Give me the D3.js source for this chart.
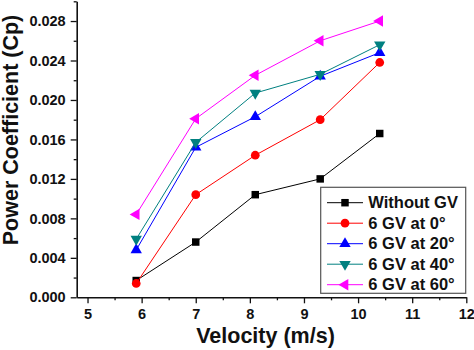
<!DOCTYPE html>
<html>
<head>
<meta charset="utf-8">
<script src="https://d3js.org/d3.v7.min.js"></script>
<style>
  body { margin: 0; background: #fff; }
  text { font-family: "Liberation Sans", Arial, sans-serif; font-weight: bold; }
</style>
</head>
<body>
<script>
// data
let velocity = [5.9, 7, 8.1, 9.3, 10.4];
let withoutGV = [0.0017, 0.0056, 0.0104, 0.0120, 0.0166];
let gv0  = [0.0014, 0.0104, 0.0144, 0.0180, 0.0238];
let gv20 = [0.0048, 0.0152, 0.0183, 0.0224, 0.0248];
let gv40 = [0.0059, 0.0157, 0.0207, 0.0226, 0.0256];
let gv60 = [0.0084, 0.0181, 0.0225, 0.0260, 0.0280];
let seriesNames = ["Without GV", "6 GV at 0\u00b0", "6 GV at 20\u00b0", "6 GV at 40\u00b0", "6 GV at 60\u00b0"];
let xTicks = [5, 6, 7, 8, 9, 10, 11, 12];
let yTicks = [0, 0.004, 0.008, 0.012, 0.016, 0.020, 0.024, 0.028];

let width = 474, height = 350;

let svg = d3.select("body").append("svg")
    .attr("width", width)
    .attr("height", height);

let x = d3.scaleLinear().domain([4.8, 12]).range([76.7, 466.3]);
let y = d3.scaleLinear().domain([0, 0.030]).range([297.3, 1.3]);

// minor ticks first
svg.append("g")
    .attr("transform", "translate(0,297.3)")
    .call(d3.axisBottom(x).tickValues(d3.range(5.5, 12, 1)).tickSize(3).tickFormat(""))
    .call(g => g.select(".domain").remove());
svg.append("g")
    .attr("transform", "translate(76.7,0)")
    .call(d3.axisLeft(y).tickValues(d3.range(0.002, 0.0301, 0.004)).tickSize(3).tickFormat(""))
    .call(g => g.select(".domain").remove());

let xAxis = svg.append("g")
    .attr("transform", "translate(0,297.3)")
    .call(d3.axisBottom(x).tickValues(xTicks).tickSize(6).tickSizeOuter(0).tickPadding(5).tickFormat(d3.format("d")));
let yAxis = svg.append("g")
    .attr("transform", "translate(76.7,0)")
    .call(d3.axisLeft(y).tickValues(yTicks).tickSize(6).tickSizeOuter(0).tickPadding(5).tickFormat(d3.format(".3f")));

svg.selectAll(".tick line").attr("stroke", "#111").attr("stroke-width", 1.3);
svg.selectAll(".domain").attr("stroke", "#111").attr("stroke-width", 1.6);
svg.selectAll(".tick text").attr("font-size", "14.5px").attr("fill", "#111")
    .attr("font-family", "Liberation Sans, Arial, sans-serif").attr("font-weight", "bold");

// axis titles
svg.append("text")
    .attr("x", 265.5).attr("y", 343)
    .attr("text-anchor", "middle")
    .attr("font-size", "21.5px")
    .attr("fill", "#111")
    .text("Velocity (m/s)");

svg.append("text")
    .attr("transform", "translate(18,130) rotate(-90)")
    .attr("text-anchor", "middle")
    .attr("font-size", "21.5px")
    .attr("fill", "#111")
    .text("Power Coefficient (Cp)");

let series = [
  { name: seriesNames[0], values: withoutGV, color: "#000000", shape: d3.symbolSquare, size: 56, rot: 0 },
  { name: seriesNames[1], values: gv0, color: "#ff0000", shape: d3.symbolCircle, size: 60, rot: 0 },
  { name: seriesNames[2], values: gv20, color: "#0000ff", shape: d3.symbolTriangle, size: 56, rot: 0 },
  { name: seriesNames[3], values: gv40, color: "#008080", shape: d3.symbolTriangle, size: 56, rot: 180 },
  { name: seriesNames[4], values: gv60, color: "#ff00ff", shape: d3.symbolTriangle, size: 56, rot: -90 }
];

let line = d3.line()
    .x(function(d, i) { return x(velocity[i]); })
    .y(function(d) { return y(d); });

series.forEach(function(s) {
  svg.append("path")
      .datum(s.values)
      .attr("d", line)
      .attr("fill", "none")
      .attr("stroke", s.color)
      .attr("stroke-width", 1);
  svg.selectAll(null)
      .data(s.values)
      .enter()
      .append("path")
      .attr("d", d3.symbol().type(s.shape).size(s.size))
      .attr("transform", function(d, i) {
        return "translate(" + x(velocity[i]) + "," + y(d) + ") rotate(" + s.rot + ")";
      })
      .attr("fill", s.color);
});

// legend
let legend = svg.append("g");
legend.append("rect")
    .attr("x", 320.7).attr("y", 187.3)
    .attr("width", 145).attr("height", 106)
    .attr("fill", "#fff")
    .attr("stroke", "#555")
    .attr("stroke-width", 1.2);

series.forEach(function(s, i) {
  let ly = 202.7 + i * 20.5;
  legend.append("line")
      .attr("x1", 327).attr("x2", 363)
      .attr("y1", ly).attr("y2", ly)
      .attr("stroke", s.color).attr("stroke-width", 1);
  legend.append("path")
      .attr("d", d3.symbol().type(s.shape).size(s.size))
      .attr("transform", "translate(345," + ly + ") rotate(" + s.rot + ")")
      .attr("fill", s.color);
  legend.append("text")
      .attr("x", 368.3).attr("y", ly + 5.5)
      .attr("font-size", "16.5px")
      .attr("fill", "#111")
      .text(s.name);
});
</script>
</body>
</html>
